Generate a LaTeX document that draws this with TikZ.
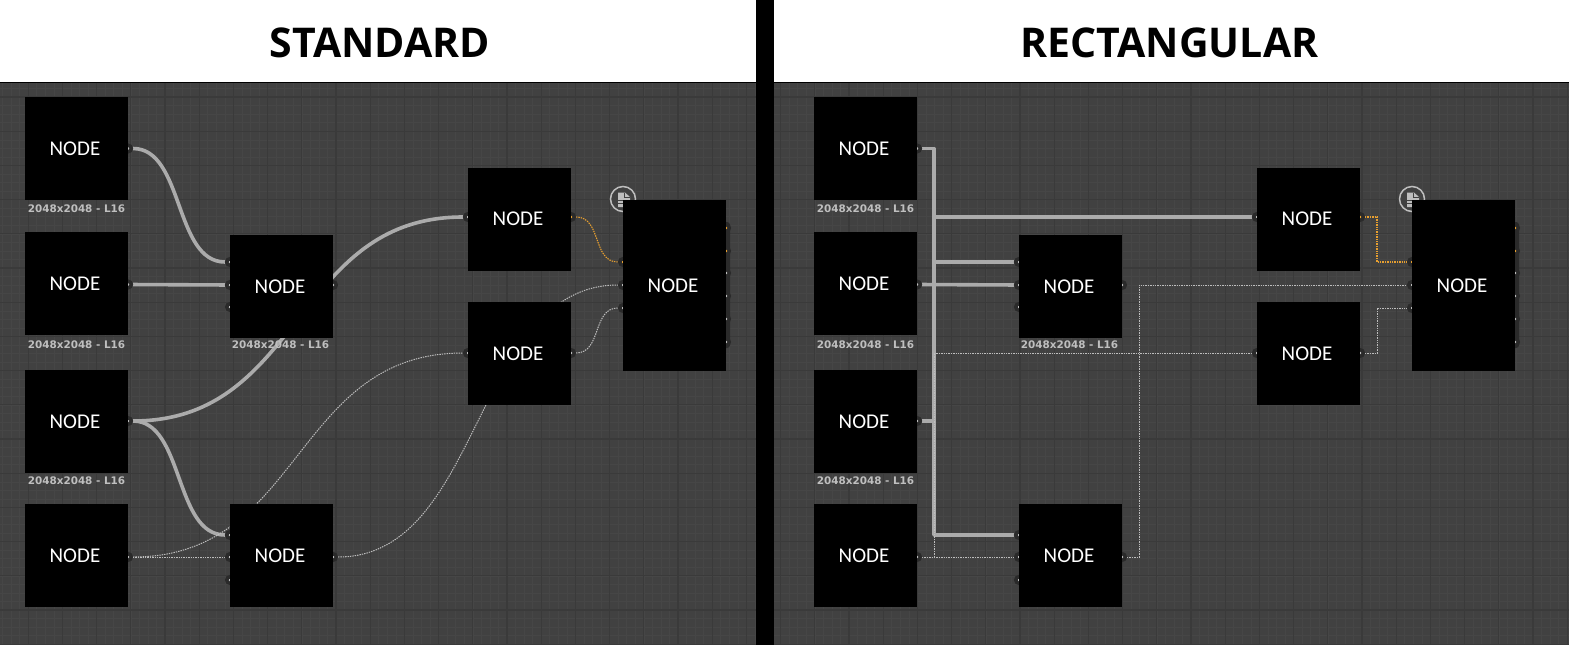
\documentclass[tikz,border=0pt]{standalone}
\usepackage{fontspec}
\usepackage{xcolor}
\usepackage{tikz}
\usetikzlibrary{backgrounds}
\newfontfamily\titlefont{Open Sans}
\newfontfamily\boxfont{Carlito}
\newfontfamily\sizefont{DejaVu Sans}
\definecolor{panelgray}{HTML}{414141}
\definecolor{majorgray}{HTML}{3A3A3A}
\definecolor{minorgray}{HTML}{464646}
\definecolor{portgray}{HTML}{2A2A2A}
\definecolor{wiregray}{HTML}{ABABAB}
\definecolor{dotgray}{HTML}{BEBEBE}
\definecolor{wireorange}{HTML}{E8A030}
\tikzset{
  box/.style = {draw=none, fill=black, text=white, inner sep=0pt, minimum width=103pt, minimum height=103pt,
    font=\boxfont\fontsize{21}{24}\selectfont, execute at end node=\hspace{3pt}},
  tallbox/.style = {box, minimum height=171pt},
  port/.style = {circle, draw=portgray, line width=3.5pt, fill=#1, inner sep=0pt, minimum size=6.5pt},
  port/.default = dotgray,
  sizelabel/.style = {text=lightgray, inner sep=0pt, font=\sizefont\bfseries\fontsize{10.4}{12}\selectfont},
  title/.style = {text=black, inner sep=0pt, font=\titlefont\bfseries\fontsize{41}{46}\selectfont},
  thickwire/.style = {draw=wiregray, line width=3.6pt, line join=round},
  dotwire/.style = {draw=dotgray, line width=1pt, dash pattern=on 1.4pt off 1pt},
  orangewire/.style = {dotwire, draw=wireorange, line width=1.1pt}
}
\begin{document}
\begin{tikzpicture}[x=1pt, y=-1pt]
\useasboundingbox (0,0) rectangle (1569,645);
\node[title] (stitle) at (380,42.8) {STANDARD};
\node[title] (rtitle) at (1169.5,42.8) {RECTANGULAR};
% both panels, same layout shifted
\foreach \p/\dx in {s/0,r/789} {
  \node[circle, draw=dotgray, line width=1.5pt, fill=panelgray, minimum size=25pt, inner sep=0pt] (\p icon) at (623+\dx,199) {};
  \fill[dotgray] (618+\dx,192.5) -- (625+\dx,192.5) -- (630+\dx,197) -- (630+\dx,207) -- (618+\dx,207) -- cycle;
  \draw[panelgray, line width=0.8pt] (624.5+\dx,193) -- (624.5+\dx,197.5) -- (630+\dx,197.5)
    (618+\dx,200.5) -- (624+\dx,200.5) (618+\dx,203.5) -- (624+\dx,203.5);
  \node[draw=none, fill=portgray, rounded corners=3pt, minimum width=8pt, minimum height=126pt, inner sep=0pt] (\p9band) at (726+\dx,285) {};
  \foreach \n/\x/\y in {1o/128/148.5, 2o/128/284.5, 3o/128/421, 4o/128/557,
      5a/230/262, 5b/230/285, 5c/230/307, 5o/333/285,
      6a/230/535, 6b/230/557, 6c/230/580, 6o/333/557,
      7a/468/217, 8a/468/353, 8o/571/353,
      9b/623/285, 9c/623/308, 9q/726/273, 9r/726/296, 9s/726/319, 9t/726/342}
    \node[port] (\p\n) at (\x+\dx,\y) {};
  \foreach \n/\x/\y in {7o/571/217, 9a/623/262, 9o/726/228, 9p/726/251}
    \node[port=wireorange] (\p\n) at (\x+\dx,\y) {};
  \node[box] (\p1) at (76.5+\dx,148.5) {NODE};
  \node[box] (\p2) at (76.5+\dx,283.5) {NODE};
  \node[box] (\p3) at (76.5+\dx,421.5) {NODE};
  \node[box] (\p4) at (76.5+\dx,555.5) {NODE};
  \node[box] (\p5) at (281.5+\dx,286.5) {NODE};
  \node[box] (\p6) at (281.5+\dx,555.5) {NODE};
  \node[box] (\p7) at (519.5+\dx,219) {NODE};
  \node[box] (\p8) at (519.5+\dx,353.5) {NODE};
  \node[tallbox] (\p9) at (674.5+\dx,285.5) {NODE};
  \node[sizelabel] (\p1s) at (76.5+\dx,208.5) {2048x2048 - L16};
  \node[sizelabel] (\p2s) at (76.5+\dx,344.5) {2048x2048 - L16};
  \node[sizelabel] (\p3s) at (76.5+\dx,480.5) {2048x2048 - L16};
  \node[sizelabel] (\p5s) at (280.5+\dx,344.5) {2048x2048 - L16};
}
\coordinate (rtrunk) at (934,0);
\coordinate (rjoga) at (1139,0);
\coordinate (rjogb) at (1377,0);
\begin{pgfonlayer}{background}
\fill[white] (0,0) rectangle (1569,645);
\fill[panelgray] (0,82) rectangle (1569,645);
\foreach \i in {0,...,184}
  \draw[minorgray, line width=0.6pt] (\i*8.55-6,82) -- (\i*8.55-6,645);
\foreach \i in {0,...,65}
  \draw[minorgray, line width=0.6pt] (0,\i*8.55+88.5) -- (1569,\i*8.55+88.5);
\foreach \i in {0,...,46}
  \draw[majorgray, line width=1.3pt] (\i*34.2-6,82) -- (\i*34.2-6,645);
\foreach \i in {0,...,16}
  \draw[majorgray, line width=1.3pt] (0,\i*34.2+97) -- (1569,\i*34.2+97);
\draw[black, line width=1pt] (0,82) -- (1569,82);
\fill[black] (756,0) rectangle (774,645);
% standard
\draw[thickwire] (s1o) to[out=0,in=180,distance=51pt] (s5a);
\draw[thickwire] (s2o) -- (s5b);
\draw[thickwire] (s3o) to[out=0,in=180,distance=170pt] (s7a);
\draw[thickwire] (s3o) to[out=0,in=180,distance=51pt] (s6a);
\draw[dotwire] (s4o) -- (s6b);
\draw[dotwire] (s4o) to[out=0,in=180,distance=170pt] (s8a);
\draw[dotwire] (s6o) to[out=0,in=180,distance=145pt] (s9b);
\draw[dotwire] (s8o) to[out=0,in=180,distance=26pt] (s9c);
\draw[orangewire] (s7o) to[out=0,in=180,distance=26pt] (s9a);
% rectangular
\draw[thickwire] (r1o) -| (rtrunk |- r5a) -- (r5a);
\draw[thickwire] (r2o) -- (r5b);
\draw[thickwire] (r3o) -| (rtrunk |- r7a) -- (r7a);
\draw[thickwire] (r3o) -| (rtrunk |- r6a) -- (r6a);
\draw[dotwire] (r4o) -- (r6b);
\draw[dotwire] (r4o) -| (rtrunk |- r8a) -- (r8a);
\draw[dotwire] (r6o) -| (rjoga |- r9b) -- (r9b);
\draw[dotwire] (r8o) -| (rjogb |- r9c) -- (r9c);
\draw[orangewire] (r7o) -| (rjogb |- r9a) -- (r9a);
\end{pgfonlayer}
\end{tikzpicture}
\end{document}
